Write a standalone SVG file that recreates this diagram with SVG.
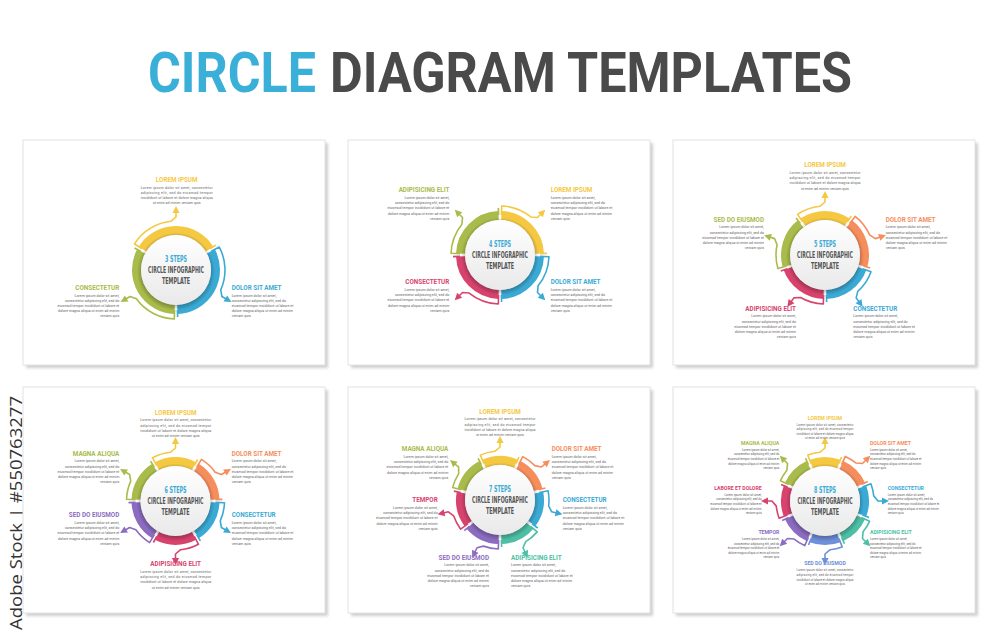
<svg xmlns="http://www.w3.org/2000/svg" xmlns:xlink="http://www.w3.org/1999/xlink" width="1000" height="643" viewBox="0 0 1000 643">
<style>
.thick{fill:none;stroke:currentColor;stroke-width:9}
.ln{fill:none;stroke:currentColor;stroke-width:1.6;stroke-linejoin:round;stroke-linecap:butt}
.hd{fill:currentColor}
.t{font-family:Roboto,"Liberation Sans",sans-serif;font-weight:700;font-size:6.3px}
.t6{font-size:5.2px}
.b{font-family:Roboto,"Liberation Sans",sans-serif;font-size:3.6px;fill:#666}
.b6{font-size:3px}
.m{text-anchor:middle}.e{text-anchor:end}
.c{font-family:"DejaVu Sans Condensed","DejaVu Sans",sans-serif;font-weight:700;font-size:8.5px;text-anchor:middle;fill:#555}
.cb{fill:#3AAAD5}
.panel{fill:#fff;stroke:#e2e2e2;stroke-width:1}
.shadow{fill:#cfcfcf;filter:url(#blur)}
.Y{fill:#F5C842}.O{fill:#F58D5C}.B{fill:#3AAAD5}.T{fill:#4DBFA5}.P{fill:#D8436E}.V{fill:#8B6CC1}.W{fill:#6E8FDA}.G{fill:#A9BB4A}
</style>
<defs>
<filter id="blur" x="-5%" y="-5%" width="110%" height="110%"><feGaussianBlur stdDeviation="1.5"/></filter>
<radialGradient id="sh" cx="0.5" cy="0.5" r="0.5"><stop offset="0.85" stop-color="#000" stop-opacity="0.28"/><stop offset="1" stop-color="#000" stop-opacity="0"/></radialGradient>
<linearGradient id="wg" x1="0" y1="0" x2="0" y2="1"><stop offset="0" stop-color="#ffffff"/><stop offset="1" stop-color="#e9e9e9"/></linearGradient>
<path id="hd" class="hd" d="M0 -64 L-3.6 -57 L3.6 -57 Z"/>
<g id="s3"><path class="thick" d="M-33.50 -20.93 A39.5 39.5 0 0 1 33.50 -20.93"/><path class="ln" d="M-33.92 -21.20 L-41.55 -25.97 A49 49 0 0 1 -5.12 -48.73 L0 -53 L0 -58"/><path class="ln" d="M33.92 -21.20 L39.86 -24.91"/><use href="#hd"/></g>
<g id="s4"><path class="thick" d="M-26.94 -28.89 A39.5 39.5 0 0 1 26.94 -28.89"/><path class="ln" d="M-27.28 -29.26 L-33.42 -35.84 A49 49 0 0 1 -5.12 -48.73 L0 -53 L0 -58"/><path class="ln" d="M27.28 -29.26 L32.05 -34.38"/><use href="#hd"/></g>
<g id="s5"><path class="thick" d="M-22.09 -32.75 A39.5 39.5 0 0 1 22.09 -32.75"/><path class="ln" d="M-22.37 -33.16 L-27.40 -40.62 A49 49 0 0 1 -5.12 -48.73 L0 -53 L0 -58"/><path class="ln" d="M22.37 -33.16 L26.28 -38.96"/><use href="#hd"/></g>
<g id="s6"><path class="thick" d="M-18.55 -34.88 A39.5 39.5 0 0 1 18.55 -34.88"/><path class="ln" d="M-18.78 -35.32 L-23.01 -43.26 A49 49 0 0 1 -5.12 -48.73 L0 -53 L0 -58"/><path class="ln" d="M18.78 -35.32 L22.07 -41.50"/><use href="#hd"/></g>
<g id="s7"><path class="thick" d="M-15.88 -36.17 A39.5 39.5 0 0 1 15.88 -36.17"/><path class="ln" d="M-16.08 -36.62 L-19.70 -44.86 A49 49 0 0 1 -5.12 -48.73 L0 -53 L0 -58"/><path class="ln" d="M16.08 -36.62 L18.90 -43.03"/><use href="#hd"/></g>
<g id="s8"><path class="thick" d="M-13.83 -37.00 A39.5 39.5 0 0 1 13.83 -37.00"/><path class="ln" d="M-14.01 -37.47 L-17.16 -45.90 A49 49 0 0 1 -5.12 -48.73 L0 -53 L0 -58"/><path class="ln" d="M14.01 -37.47 L16.46 -44.02"/><use href="#hd"/></g>
<g id="hub"><circle cy="1.5" r="39" fill="url(#sh)"/><circle r="35" fill="url(#wg)"/></g>
</defs>
<rect width="1000" height="643" fill="#fff"/>
<g id="title" font-family="Roboto,'Liberation Sans',sans-serif" font-weight="700" font-size="56">
<text x="148" y="92" fill="#3AB0D8" textLength="168" lengthAdjust="spacingAndGlyphs">CIRCLE</text>
<text x="330" y="92" fill="#4A4A4A" textLength="522" lengthAdjust="spacingAndGlyphs">DIAGRAM TEMPLATES</text>
</g>
<text id="watermark" transform="translate(22,630) rotate(-90)" font-family="'Open Sans','Liberation Sans',sans-serif" font-size="17" fill="#333" textLength="234" lengthAdjust="spacingAndGlyphs">Adobe Stock | #550763277</text>
<g id="panels">
<rect class="shadow" x="26" y="143" width="302" height="225"/><rect class="panel" x="23" y="140" width="302" height="225"/>
<rect class="shadow" x="351" y="143" width="302" height="225"/><rect class="panel" x="348" y="140" width="302" height="225"/>
<rect class="shadow" x="676" y="143" width="302" height="225"/><rect class="panel" x="673" y="140" width="302" height="225"/>
<rect class="shadow" x="26" y="390" width="302" height="226"/><rect class="panel" x="23" y="387" width="302" height="226"/>
<rect class="shadow" x="351" y="390" width="302" height="226"/><rect class="panel" x="348" y="387" width="302" height="226"/>
<rect class="shadow" x="676" y="390" width="302" height="226"/><rect class="panel" x="673" y="387" width="302" height="226"/>
</g>
<g id="connectors">
<g transform="translate(176,270)"><use href="#s3" color="#F5C842"/><use href="#s3" transform="rotate(120)" color="#3AAAD5"/><use href="#s3" transform="rotate(240)" color="#A9BB4A"/></g>
<g transform="translate(500,255)"><use href="#s4" transform="rotate(45)" color="#F5C842"/><use href="#s4" transform="rotate(135)" color="#3AAAD5"/><use href="#s4" transform="rotate(225)" color="#D8436E"/><use href="#s4" transform="rotate(315)" color="#A9BB4A"/></g>
<g transform="translate(825,255)"><use href="#s5" color="#F5C842"/><use href="#s5" transform="rotate(72)" color="#F58D5C"/><use href="#s5" transform="rotate(144)" color="#3AAAD5"/><use href="#s5" transform="rotate(216)" color="#D8436E"/><use href="#s5" transform="rotate(288)" color="#A9BB4A"/></g>
<g transform="translate(175.5,501)"><use href="#s6" color="#F5C842"/><use href="#s6" transform="rotate(60)" color="#F58D5C"/><use href="#s6" transform="rotate(120)" color="#3AAAD5"/><use href="#s6" transform="rotate(180)" color="#D8436E"/><use href="#s6" transform="rotate(240)" color="#8B6CC1"/><use href="#s6" transform="rotate(300)" color="#A9BB4A"/></g>
<g transform="translate(500,500)"><use href="#s7" color="#F5C842"/><use href="#s7" transform="rotate(51.43)" color="#F58D5C"/><use href="#s7" transform="rotate(102.86)" color="#3AAAD5"/><use href="#s7" transform="rotate(154.29)" color="#4DBFA5"/><use href="#s7" transform="rotate(205.71)" color="#8B6CC1"/><use href="#s7" transform="rotate(257.14)" color="#D8436E"/><use href="#s7" transform="rotate(308.57)" color="#A9BB4A"/></g>
<g transform="translate(825,501)"><use href="#s8" color="#F5C842"/><use href="#s8" transform="rotate(45)" color="#F58D5C"/><use href="#s8" transform="rotate(90)" color="#3AAAD5"/><use href="#s8" transform="rotate(135)" color="#4DBFA5"/><use href="#s8" transform="rotate(180)" color="#6E8FDA"/><use href="#s8" transform="rotate(225)" color="#8B6CC1"/><use href="#s8" transform="rotate(270)" color="#D8436E"/><use href="#s8" transform="rotate(315)" color="#A9BB4A"/></g>
</g>
<!-- Panel 1 -->
<g id="hub1"><use href="#hub" transform="translate(176,270)"/>
<text class="c cb" x="176" y="262" textLength="22" lengthAdjust="spacingAndGlyphs">3 STEPS</text>
<text class="c" x="176" y="273" textLength="56" lengthAdjust="spacingAndGlyphs">CIRCLE INFOGRAPHIC</text>
<text class="c" x="176" y="284" textLength="28" lengthAdjust="spacingAndGlyphs">TEMPLATE</text></g>
<g id="p1-n1"><text class="t m Y" x="176.7" y="181.5">LOREM IPSUM</text>
<text class="b m" x="176.7" y="188.5" textLength="72" lengthAdjust="spacing">Lorem ipsum dolor sit amet, consectetur</text>
<text class="b m" x="176.7" y="193.7" textLength="72" lengthAdjust="spacing">adipiscing elit, sed do eiusmod tempor</text>
<text class="b m" x="176.7" y="198.9" textLength="72" lengthAdjust="spacing">incididunt ut labore et dolore magna aliqua</text>
<text class="b m" x="176.7" y="204.1">ut enim ad minim veniam quis</text></g>
<g id="p1-n2"><text class="t e G" x="119.3" y="290">CONSECTETUR</text>
<text class="b e" x="119.3" y="296.5"><tspan x="119.3">Lorem ipsum dolor sit amet,</tspan><tspan x="119.3" dy="5.2">consectetur adipiscing elit, sed do</tspan><tspan x="119.3" dy="5.2">eiusmod tempor incididunt ut labore et</tspan><tspan x="119.3" dy="5.2">dolore magna aliqua ut enim ad minim</tspan><tspan x="119.3" dy="5.2">veniam quis</tspan></text></g>
<g id="p1-n3"><text class="t B" x="231.7" y="290">DOLOR SIT AMET</text>
<text class="b" x="231.7" y="296.5"><tspan x="231.7">Lorem ipsum dolor sit amet,</tspan><tspan x="231.7" dy="5.2">consectetur adipiscing elit, sed do</tspan><tspan x="231.7" dy="5.2">eiusmod tempor incididunt ut labore et</tspan><tspan x="231.7" dy="5.2">dolore magna aliqua ut enim ad minim</tspan><tspan x="231.7" dy="5.2">veniam quis</tspan></text></g>
<!-- Panel 2 -->
<g id="hub2"><use href="#hub" transform="translate(500,255)"/>
<text class="c cb" x="500" y="247" textLength="22" lengthAdjust="spacingAndGlyphs">4 STEPS</text>
<text class="c" x="500" y="258" textLength="56" lengthAdjust="spacingAndGlyphs">CIRCLE INFOGRAPHIC</text>
<text class="c" x="500" y="269" textLength="28" lengthAdjust="spacingAndGlyphs">TEMPLATE</text></g>
<g id="p2-n1"><text class="t e G" x="449.3" y="192.3">ADIPISICING ELIT</text>
<text class="b e" x="449.3" y="199"><tspan x="449.3">Lorem ipsum dolor sit amet,</tspan><tspan x="449.3" dy="5.2">consectetur adipiscing elit, sed do</tspan><tspan x="449.3" dy="5.2">eiusmod tempor incididunt ut labore et</tspan><tspan x="449.3" dy="5.2">dolore magna aliqua ut enim ad minim</tspan><tspan x="449.3" dy="5.2">veniam quis</tspan></text></g>
<g id="p2-n2"><text class="t Y" x="550.7" y="192.3">LOREM IPSUM</text>
<text class="b" x="550.7" y="199"><tspan x="550.7">Lorem ipsum dolor sit amet,</tspan><tspan x="550.7" dy="5.2">consectetur adipiscing elit, sed do</tspan><tspan x="550.7" dy="5.2">eiusmod tempor incididunt ut labore et</tspan><tspan x="550.7" dy="5.2">dolore magna aliqua ut enim ad minim</tspan><tspan x="550.7" dy="5.2">veniam quis</tspan></text></g>
<g id="p2-n3"><text class="t e P" x="449.3" y="284.3">CONSECTETUR</text>
<text class="b e" x="449.3" y="291"><tspan x="449.3">Lorem ipsum dolor sit amet,</tspan><tspan x="449.3" dy="5.2">consectetur adipiscing elit, sed do</tspan><tspan x="449.3" dy="5.2">eiusmod tempor incididunt ut labore et</tspan><tspan x="449.3" dy="5.2">dolore magna aliqua ut enim ad minim</tspan><tspan x="449.3" dy="5.2">veniam quis</tspan></text></g>
<g id="p2-n4"><text class="t B" x="550.7" y="284.3">DOLOR SIT AMET</text>
<text class="b" x="550.7" y="291"><tspan x="550.7">Lorem ipsum dolor sit amet,</tspan><tspan x="550.7" dy="5.2">consectetur adipiscing elit, sed do</tspan><tspan x="550.7" dy="5.2">eiusmod tempor incididunt ut labore et</tspan><tspan x="550.7" dy="5.2">dolore magna aliqua ut enim ad minim</tspan><tspan x="550.7" dy="5.2">veniam quis</tspan></text></g>
<!-- Panel 3 -->
<g id="hub3"><use href="#hub" transform="translate(825,255)"/>
<text class="c cb" x="825" y="247" textLength="22" lengthAdjust="spacingAndGlyphs">5 STEPS</text>
<text class="c" x="825" y="258" textLength="56" lengthAdjust="spacingAndGlyphs">CIRCLE INFOGRAPHIC</text>
<text class="c" x="825" y="269" textLength="28" lengthAdjust="spacingAndGlyphs">TEMPLATE</text></g>
<g id="p3-n1"><text class="t m Y" x="825" y="167.3">LOREM IPSUM</text>
<text class="b m" x="825" y="174" textLength="71" lengthAdjust="spacing">Lorem ipsum dolor sit amet, consectetur</text>
<text class="b m" x="825" y="179.2" textLength="71" lengthAdjust="spacing">adipiscing elit, sed do eiusmod tempor</text>
<text class="b m" x="825" y="184.4" textLength="71" lengthAdjust="spacing">incididunt ut labore et dolore magna aliqua</text>
<text class="b m" x="825" y="189.6">ut enim ad minim veniam quis</text></g>
<g id="p3-n2"><text class="t O" x="885.7" y="221.7">DOLOR SIT AMET</text>
<text class="b" x="885.7" y="228.4"><tspan x="885.7">Lorem ipsum dolor sit amet,</tspan><tspan x="885.7" dy="5.2">consectetur adipiscing elit, sed do</tspan><tspan x="885.7" dy="5.2">eiusmod tempor incididunt ut labore et</tspan><tspan x="885.7" dy="5.2">dolore magna aliqua ut enim ad minim</tspan><tspan x="885.7" dy="5.2">veniam quis</tspan></text></g>
<g id="p3-n3"><text class="t B" x="853.3" y="310.7">CONSECTETUR</text>
<text class="b" x="853.3" y="317.4"><tspan x="853.3">Lorem ipsum dolor sit amet,</tspan><tspan x="853.3" dy="5.2">consectetur adipiscing elit, sed do</tspan><tspan x="853.3" dy="5.2">eiusmod tempor incididunt ut labore et</tspan><tspan x="853.3" dy="5.2">dolore magna aliqua ut enim ad minim</tspan><tspan x="853.3" dy="5.2">veniam quis</tspan></text></g>
<g id="p3-n4"><text class="t e P" x="796" y="310.7">ADIPISICING ELIT</text>
<text class="b e" x="796" y="317.4"><tspan x="796">Lorem ipsum dolor sit amet,</tspan><tspan x="796" dy="5.2">consectetur adipiscing elit, sed do</tspan><tspan x="796" dy="5.2">eiusmod tempor incididunt ut labore et</tspan><tspan x="796" dy="5.2">dolore magna aliqua ut enim ad minim</tspan><tspan x="796" dy="5.2">veniam quis</tspan></text></g>
<g id="p3-n5"><text class="t e G" x="764" y="221.7">SED DO EIUSMOD</text>
<text class="b e" x="764" y="228.4"><tspan x="764">Lorem ipsum dolor sit amet,</tspan><tspan x="764" dy="5.2">consectetur adipiscing elit, sed do</tspan><tspan x="764" dy="5.2">eiusmod tempor incididunt ut labore et</tspan><tspan x="764" dy="5.2">dolore magna aliqua ut enim ad minim</tspan><tspan x="764" dy="5.2">veniam quis</tspan></text></g>
<!-- Panel 4 -->
<g id="hub4"><use href="#hub" transform="translate(175.5,501)"/>
<text class="c cb" x="175.5" y="493" textLength="22" lengthAdjust="spacingAndGlyphs">6 STEPS</text>
<text class="c" x="175.5" y="504" textLength="56" lengthAdjust="spacingAndGlyphs">CIRCLE INFOGRAPHIC</text>
<text class="c" x="175.5" y="515" textLength="28" lengthAdjust="spacingAndGlyphs">TEMPLATE</text></g>
<g id="p4-n1"><text class="t m Y" x="175.7" y="414.7">LOREM IPSUM</text>
<text class="b m" x="175.7" y="421.4" textLength="71" lengthAdjust="spacing">Lorem ipsum dolor sit amet, consectetur</text>
<text class="b m" x="175.7" y="426.6" textLength="71" lengthAdjust="spacing">adipiscing elit, sed do eiusmod tempor</text>
<text class="b m" x="175.7" y="431.8" textLength="71" lengthAdjust="spacing">incididunt ut labore et dolore magna aliqua</text>
<text class="b m" x="175.7" y="437">ut enim ad minim veniam quis</text></g>
<g id="p4-n2"><text class="t O" x="231.7" y="455.7">DOLOR SIT AMET</text>
<text class="b" x="231.7" y="462.4"><tspan x="231.7">Lorem ipsum dolor sit amet,</tspan><tspan x="231.7" dy="5.2">consectetur adipiscing elit, sed do</tspan><tspan x="231.7" dy="5.2">eiusmod tempor incididunt ut labore et</tspan><tspan x="231.7" dy="5.2">dolore magna aliqua ut enim ad minim</tspan><tspan x="231.7" dy="5.2">veniam quis</tspan></text></g>
<g id="p4-n3"><text class="t B" x="231.7" y="517.3">CONSECTETUR</text>
<text class="b" x="231.7" y="524"><tspan x="231.7">Lorem ipsum dolor sit amet,</tspan><tspan x="231.7" dy="5.2">consectetur adipiscing elit, sed do</tspan><tspan x="231.7" dy="5.2">eiusmod tempor incididunt ut labore et</tspan><tspan x="231.7" dy="5.2">dolore magna aliqua ut enim ad minim</tspan><tspan x="231.7" dy="5.2">veniam quis</tspan></text></g>
<g id="p4-n4"><text class="t m P" x="175.7" y="566.3">ADIPISICING ELIT</text>
<text class="b m" x="175.7" y="573" textLength="71" lengthAdjust="spacing">Lorem ipsum dolor sit amet, consectetur</text>
<text class="b m" x="175.7" y="578.2" textLength="71" lengthAdjust="spacing">adipiscing elit, sed do eiusmod tempor</text>
<text class="b m" x="175.7" y="583.4" textLength="71" lengthAdjust="spacing">incididunt ut labore et dolore magna aliqua</text>
<text class="b m" x="175.7" y="588.6">ut enim ad minim veniam quis</text></g>
<g id="p4-n5"><text class="t e V" x="119.3" y="517.3">SED DO EIUSMOD</text>
<text class="b e" x="119.3" y="524"><tspan x="119.3">Lorem ipsum dolor sit amet,</tspan><tspan x="119.3" dy="5.2">consectetur adipiscing elit, sed do</tspan><tspan x="119.3" dy="5.2">eiusmod tempor incididunt ut labore et</tspan><tspan x="119.3" dy="5.2">dolore magna aliqua ut enim ad minim</tspan><tspan x="119.3" dy="5.2">veniam quis</tspan></text></g>
<g id="p4-n6"><text class="t e G" x="119.3" y="455.7">MAGNA ALIQUA</text>
<text class="b e" x="119.3" y="462.4"><tspan x="119.3">Lorem ipsum dolor sit amet,</tspan><tspan x="119.3" dy="5.2">consectetur adipiscing elit, sed do</tspan><tspan x="119.3" dy="5.2">eiusmod tempor incididunt ut labore et</tspan><tspan x="119.3" dy="5.2">dolore magna aliqua ut enim ad minim</tspan><tspan x="119.3" dy="5.2">veniam quis</tspan></text></g>
<!-- Panel 5 -->
<g id="hub5"><use href="#hub" transform="translate(500,500)"/>
<text class="c cb" x="500" y="492" textLength="22" lengthAdjust="spacingAndGlyphs">7 STEPS</text>
<text class="c" x="500" y="503" textLength="56" lengthAdjust="spacingAndGlyphs">CIRCLE INFOGRAPHIC</text>
<text class="c" x="500" y="514" textLength="28" lengthAdjust="spacingAndGlyphs">TEMPLATE</text></g>
<g id="p5-n1"><text class="t m Y" x="500" y="413.7">LOREM IPSUM</text>
<text class="b m" x="500" y="420.4" textLength="71" lengthAdjust="spacing">Lorem ipsum dolor sit amet, consectetur</text>
<text class="b m" x="500" y="425.6" textLength="71" lengthAdjust="spacing">adipiscing elit, sed do eiusmod tempor</text>
<text class="b m" x="500" y="430.8" textLength="71" lengthAdjust="spacing">incididunt ut labore et dolore magna aliqua</text>
<text class="b m" x="500" y="436">ut enim ad minim veniam quis</text></g>
<g id="p5-n2"><text class="t O" x="551.7" y="451.3">DOLOR SIT AMET</text>
<text class="b" x="551.7" y="458"><tspan x="551.7">Lorem ipsum dolor sit amet,</tspan><tspan x="551.7" dy="5.2">consectetur adipiscing elit, sed do</tspan><tspan x="551.7" dy="5.2">eiusmod tempor incididunt ut labore et</tspan><tspan x="551.7" dy="5.2">dolore magna aliqua ut enim ad minim</tspan><tspan x="551.7" dy="5.2">veniam quis</tspan></text></g>
<g id="p5-n3"><text class="t B" x="562.7" y="502.3">CONSECTETUR</text>
<text class="b" x="562.7" y="509"><tspan x="562.7">Lorem ipsum dolor sit amet,</tspan><tspan x="562.7" dy="5.2">consectetur adipiscing elit, sed do</tspan><tspan x="562.7" dy="5.2">eiusmod tempor incididunt ut labore et</tspan><tspan x="562.7" dy="5.2">dolore magna aliqua ut enim ad minim</tspan><tspan x="562.7" dy="5.2">veniam quis</tspan></text></g>
<g id="p5-n4"><text class="t T" x="511" y="559.7">ADIPISICING ELIT</text>
<text class="b" x="511" y="566.4"><tspan x="511">Lorem ipsum dolor sit amet,</tspan><tspan x="511" dy="5.2">consectetur adipiscing elit, sed do</tspan><tspan x="511" dy="5.2">eiusmod tempor incididunt ut labore et</tspan><tspan x="511" dy="5.2">dolore magna aliqua ut enim ad minim</tspan><tspan x="511" dy="5.2">veniam quis</tspan></text></g>
<g id="p5-n5"><text class="t e V" x="489" y="559.7">SED DO EIUSMOD</text>
<text class="b e" x="489" y="566.4"><tspan x="489">Lorem ipsum dolor sit amet,</tspan><tspan x="489" dy="5.2">consectetur adipiscing elit, sed do</tspan><tspan x="489" dy="5.2">eiusmod tempor incididunt ut labore et</tspan><tspan x="489" dy="5.2">dolore magna aliqua ut enim ad minim</tspan><tspan x="489" dy="5.2">veniam quis</tspan></text></g>
<g id="p5-n6"><text class="t e P" x="437.7" y="502.3">TEMPOR</text>
<text class="b e" x="437.7" y="509"><tspan x="437.7">Lorem ipsum dolor sit amet,</tspan><tspan x="437.7" dy="5.2">consectetur adipiscing elit, sed do</tspan><tspan x="437.7" dy="5.2">eiusmod tempor incididunt ut labore et</tspan><tspan x="437.7" dy="5.2">dolore magna aliqua ut enim ad minim</tspan><tspan x="437.7" dy="5.2">veniam quis</tspan></text></g>
<g id="p5-n7"><text class="t e G" x="448.3" y="451.3">MAGNA ALIQUA</text>
<text class="b e" x="448.3" y="458"><tspan x="448.3">Lorem ipsum dolor sit amet,</tspan><tspan x="448.3" dy="5.2">consectetur adipiscing elit, sed do</tspan><tspan x="448.3" dy="5.2">eiusmod tempor incididunt ut labore et</tspan><tspan x="448.3" dy="5.2">dolore magna aliqua ut enim ad minim</tspan><tspan x="448.3" dy="5.2">veniam quis</tspan></text></g>
<!-- Panel 6 -->
<g id="hub6"><use href="#hub" transform="translate(825,501)"/>
<text class="c cb" x="825" y="493" textLength="22" lengthAdjust="spacingAndGlyphs">8 STEPS</text>
<text class="c" x="825" y="504" textLength="55" lengthAdjust="spacingAndGlyphs">CIRCLE INFOGRAPHIC</text>
<text class="c" x="825" y="515" textLength="28" lengthAdjust="spacingAndGlyphs">TEMPLATE</text></g>
<g id="p6-n1"><text class="t t6 m Y" x="825" y="419.5">LOREM IPSUM</text>
<text class="b b6 m" x="825" y="425.5" textLength="57" lengthAdjust="spacing">Lorem ipsum dolor sit amet, consectetur</text>
<text class="b b6 m" x="825" y="430.1" textLength="57" lengthAdjust="spacing">adipiscing elit, sed do eiusmod tempor</text>
<text class="b b6 m" x="825" y="434.7" textLength="57" lengthAdjust="spacing">incididunt ut labore et dolore magna aliqua</text>
<text class="b b6 m" x="825" y="439.3">ut enim ad minim veniam quis</text></g>
<g id="p6-n2"><text class="t t6 O" x="870" y="444.7">DOLOR SIT AMET</text>
<text class="b b6" x="870" y="450.7"><tspan x="870">Lorem ipsum dolor sit amet,</tspan><tspan x="870" dy="4.6">consectetur adipiscing elit, sed do</tspan><tspan x="870" dy="4.6">eiusmod tempor incididunt ut labore et</tspan><tspan x="870" dy="4.6">dolore magna aliqua ut enim ad minim</tspan><tspan x="870" dy="4.6">veniam quis</tspan></text></g>
<g id="p6-n3"><text class="t t6 B" x="887.7" y="489.7">CONSECTETUR</text>
<text class="b b6" x="887.7" y="495.7"><tspan x="887.7">Lorem ipsum dolor sit amet,</tspan><tspan x="887.7" dy="4.6">consectetur adipiscing elit, sed do</tspan><tspan x="887.7" dy="4.6">eiusmod tempor incididunt ut labore et</tspan><tspan x="887.7" dy="4.6">dolore magna aliqua ut enim ad minim</tspan><tspan x="887.7" dy="4.6">veniam quis</tspan></text></g>
<g id="p6-n4"><text class="t t6 T" x="870" y="534">ADIPISICING ELIT</text>
<text class="b b6" x="870" y="540"><tspan x="870">Lorem ipsum dolor sit amet,</tspan><tspan x="870" dy="4.6">consectetur adipiscing elit, sed do</tspan><tspan x="870" dy="4.6">eiusmod tempor incididunt ut labore et</tspan><tspan x="870" dy="4.6">dolore magna aliqua ut enim ad minim</tspan><tspan x="870" dy="4.6">veniam quis</tspan></text></g>
<g id="p6-n5"><text class="t t6 m W" x="825" y="565.3">SED DO EIUSMOD</text>
<text class="b b6 m" x="825" y="571.3" textLength="57" lengthAdjust="spacing">Lorem ipsum dolor sit amet, consectetur</text>
<text class="b b6 m" x="825" y="575.9" textLength="57" lengthAdjust="spacing">adipiscing elit, sed do eiusmod tempor</text>
<text class="b b6 m" x="825" y="580.5" textLength="57" lengthAdjust="spacing">incididunt ut labore et dolore magna aliqua</text>
<text class="b b6 m" x="825" y="585.1">ut enim ad minim veniam quis</text></g>
<g id="p6-n6"><text class="t t6 e V" x="779.3" y="534">TEMPOR</text>
<text class="b b6 e" x="779.3" y="540"><tspan x="779.3">Lorem ipsum dolor sit amet,</tspan><tspan x="779.3" dy="4.6">consectetur adipiscing elit, sed do</tspan><tspan x="779.3" dy="4.6">eiusmod tempor incididunt ut labore et</tspan><tspan x="779.3" dy="4.6">dolore magna aliqua ut enim ad minim</tspan><tspan x="779.3" dy="4.6">veniam quis</tspan></text></g>
<g id="p6-n7"><text class="t t6 e P" x="761.7" y="489.7">LABORE ET DOLORE</text>
<text class="b b6 e" x="761.7" y="495.7"><tspan x="761.7">Lorem ipsum dolor sit amet,</tspan><tspan x="761.7" dy="4.6">consectetur adipiscing elit, sed do</tspan><tspan x="761.7" dy="4.6">eiusmod tempor incididunt ut labore et</tspan><tspan x="761.7" dy="4.6">dolore magna aliqua ut enim ad minim</tspan><tspan x="761.7" dy="4.6">veniam quis</tspan></text></g>
<g id="p6-n8"><text class="t t6 e G" x="779.3" y="444.7">MAGNA ALIQUA</text>
<text class="b b6 e" x="779.3" y="450.7"><tspan x="779.3">Lorem ipsum dolor sit amet,</tspan><tspan x="779.3" dy="4.6">consectetur adipiscing elit, sed do</tspan><tspan x="779.3" dy="4.6">eiusmod tempor incididunt ut labore et</tspan><tspan x="779.3" dy="4.6">dolore magna aliqua ut enim ad minim</tspan><tspan x="779.3" dy="4.6">veniam quis</tspan></text></g>
</svg>
